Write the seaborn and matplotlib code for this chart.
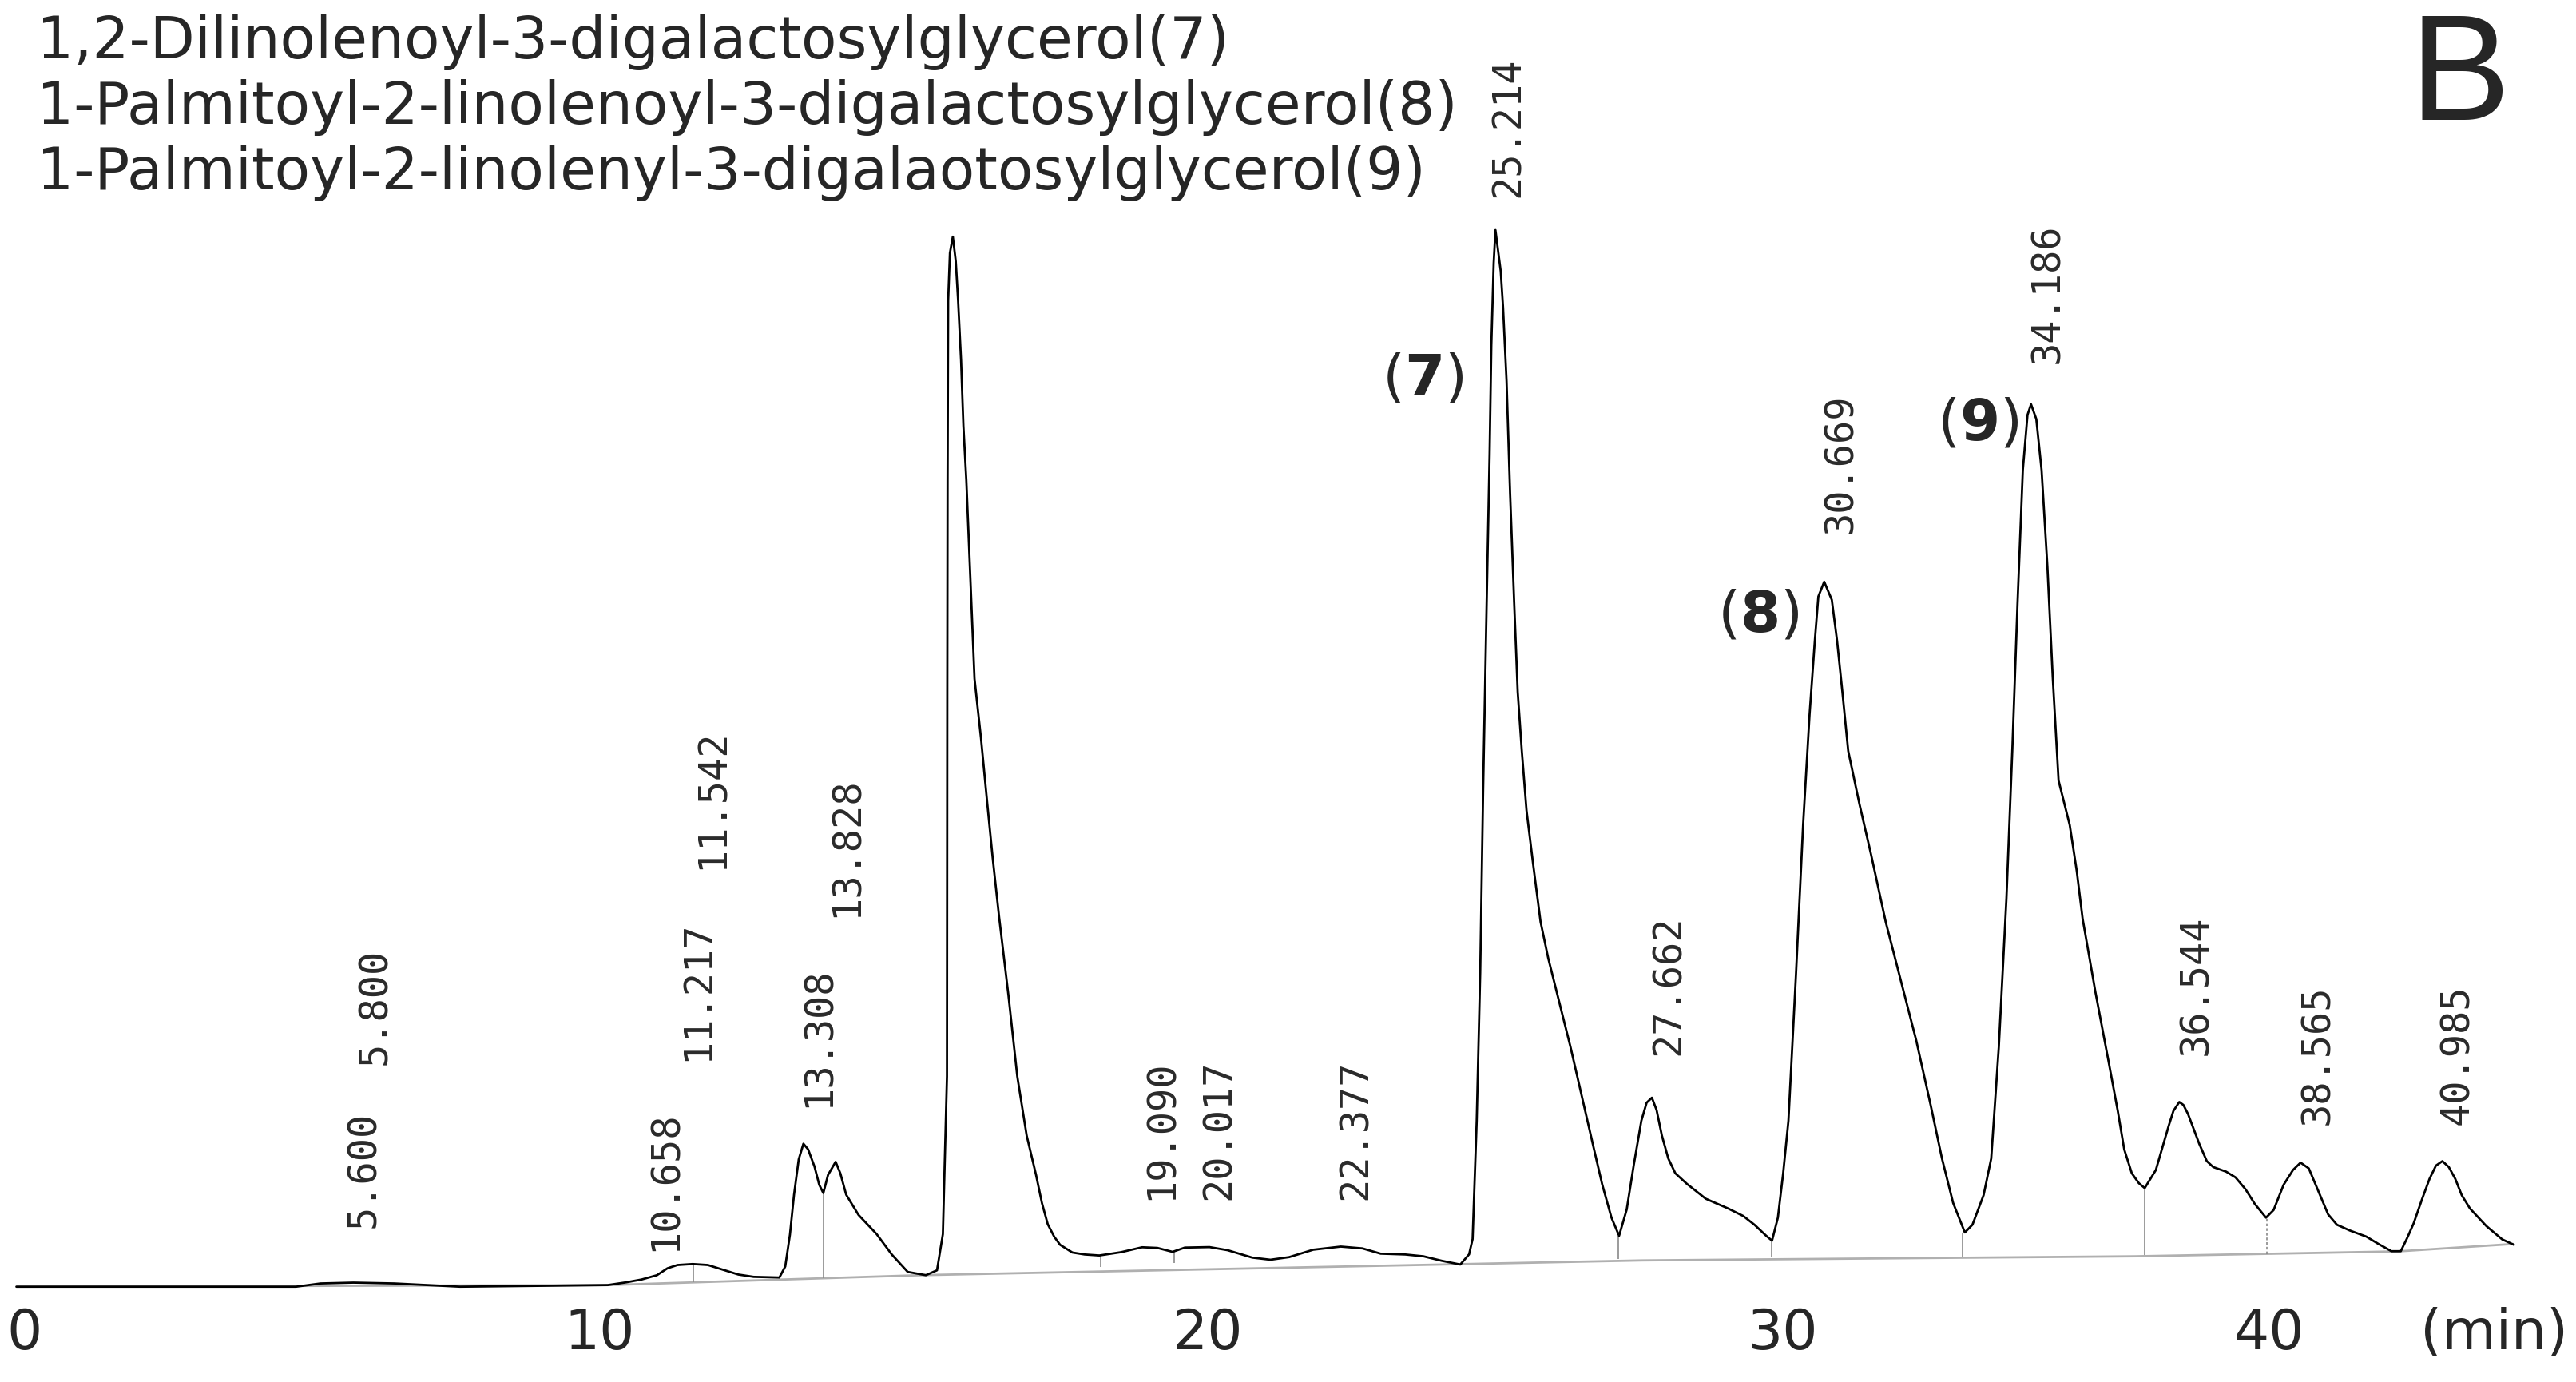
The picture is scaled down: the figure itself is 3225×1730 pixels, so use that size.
import matplotlib
matplotlib.use("Agg")
import matplotlib.pyplot as plt
import seaborn as sns

# --- trace (retention time in min, detector signal) ---
rt_min = [-0.14, 2.38, 4.63, 5.05, 5.61, 6.31, 7.43, 9.95, 10.27,
          10.53, 10.79, 10.97, 11.14, 11.40, 11.66, 11.92, 12.18, 12.44, 12.88,
          12.98, 13.06, 13.13, 13.21, 13.29, 13.37, 13.48, 13.56, 13.63, 13.71, 13.84,
          13.92, 14.02, 14.23, 14.54, 14.80, 15.07, 15.38, 15.57, 15.67, 15.74,
          15.745, 15.75, 15.755, 15.76, 15.79, 15.84, 15.89, 15.93, 15.98, 16.02,
          16.07, 16.14, 16.21, 16.32, 16.42, 16.52, 16.63, 16.79, 16.94, 17.10,
          17.26, 17.36, 17.46, 17.57, 17.67, 17.88, 18.09,
          18.34, 18.71, 19.07, 19.33, 19.59, 19.80, 20.22, 20.53, 20.95, 21.26,
          21.58, 21.99, 22.46, 22.83, 23.14, 23.56, 23.87, 24.18, 24.50,
          24.65, 24.71, 24.78, 24.84, 24.89, 24.95, 25.00, 25.03, 25.07, 25.10,
          25.19, 25.23, 25.29, 25.35, 25.42, 25.48, 25.55, 25.63, 25.74, 25.87,
          26.00, 26.19, 26.38, 26.57, 26.76, 26.92, 27.08, 27.21,
          27.34, 27.46, 27.59, 27.68, 27.77, 27.85, 27.94, 28.05, 28.17, 28.37,
          28.69, 29.07, 29.33, 29.52, 29.72, 29.82,
          29.92, 30.01, 30.10, 30.23, 30.35, 30.46, 30.55, 30.61, 30.71, 30.84, 30.93,
          31.02, 31.12, 31.31, 31.51, 31.76, 32.02, 32.28, 32.53, 32.72, 32.91, 33.11,
          33.24, 33.43, 33.56, 33.69, 33.82, 33.92, 34.01, 34.10, 34.18, 34.24, 34.33, 34.42,
          34.52, 34.61, 34.71, 34.90, 35.02, 35.12, 35.34, 35.56, 35.72, 35.83, 35.96, 36.08, 36.18,
          36.37, 36.59, 36.67, 36.77, 36.84, 36.92, 37.11, 37.24, 37.35, 37.57, 37.73, 37.90, 38.06, 38.25,
          38.38, 38.55, 38.71, 38.84, 38.98, 39.14, 39.31, 39.46, 39.68, 39.96, 40.17, 40.39, 40.55,
          40.66, 40.77, 40.91, 41.04, 41.15, 41.26, 41.37, 41.48, 41.59, 41.73, 42.01, 42.28, 42.48]
signal = [0, 0, 0, 2, 2.5, 2, 0, 1, 2.7,
          4.4, 7, 11.2, 13.2, 13.8, 13.2, 10.3, 7.4, 6, 5.6,
          12.3, 31.6, 56, 77.5, 87, 83.6, 73, 62, 57, 68, 76,
          69, 56, 43.7, 32, 19.5, 9, 7, 10, 32, 128,
          363, 491, 548, 600, 629, 639, 624, 600, 564, 524,
          491, 431, 370, 334, 297, 261, 225, 177, 128, 92,
          68, 51, 38, 30.4, 25.5, 20.8, 19.6,
          19, 21, 24, 23.6, 21.2, 23.8, 24.1, 22.2, 17.7, 16.4,
          18, 22.5, 24.4, 23.3, 20.1, 19.6, 18.5, 15.8, 13.5,
          19.7, 29, 101, 191, 303, 416, 506, 573, 623, 643,
          618, 596, 551, 483, 416, 362, 326, 290, 258, 222,
          200, 173, 146, 116.5, 87, 62.5, 42, 31,
          47, 74, 101, 112, 115, 107.5, 92, 78, 69, 62.5,
          53.5, 47.6, 43, 37.7, 31, 28,
          42, 69, 101, 191, 281, 348, 393, 420, 429, 418, 393,
          362, 326, 294, 263, 222, 186, 150, 110, 78, 51, 33,
          37.7, 55.7, 78, 146, 236, 326, 416, 497, 530.5, 537, 528, 497,
          438, 371, 308, 281, 253, 224, 179, 137.6, 107, 83.6, 69, 63, 60,
          71, 98, 107, 112.4, 110.6, 105, 87, 76.4, 72.8, 70, 66.5, 59.3, 50.3, 42,
          46.7, 62, 71, 75.5, 72, 58.4, 44, 37.7, 34.2, 30.5, 26, 21.6, 21.6,
          29.7, 38.6, 53, 65.6, 73.7, 76.4, 72.8, 65.6, 55.7, 47.6, 36.9, 28.8, 25.5]

# integration baseline and drop lines
base_rt = [-0.14, 9.95, 15.28, 27.61, 36.02, 40.51, 42.47]
base_sig = [0, 1, 7, 16, 18.5, 21.5, 26]
drop_rt = [11.41, 13.63, 18.36, 19.62, 27.19, 29.82, 33.07, 36.18]
drop_top = [13, 57, 19, 21, 31, 28, 33, 60]
drop_bottom = [3, 5, 12, 14.5, 17, 18, 18.5, 19.5]
dashed_drop_rt = 38.26
dashed_drop = (42, 20)

# retention time labels printed by the integrator
rt_labels = ["5.600", "5.800", "10.658", "11.217", "11.542", "13.308", "13.828",
             "19.090", "20.017", "22.377", "25.214", "27.662", "30.669",
             "34.186", "36.544", "38.565", "40.985"]
rt_label_x = [5.79, 5.97, 10.93, 11.48, 11.73, 13.55, 14.02, 19.40, 20.38,
              22.71, 25.32, 28.05, 30.99, 34.52, 37.05, 39.12, 41.51]
rt_label_y = [36, 135, 21.5, 137.5, 254, 109, 225, 53, 53, 53, 663, 141,
              458.5, 562, 141, 98.5, 98.5]

compounds = ["7", "8", "9"]
compound_x = [23.86, 29.58, 33.33]
compound_y = [552, 408, 525]

compound_names = ["1,2-Dilinolenoyl-3-digalactosylglycerol(7)",
                  "1-Palmitoyl-2-linolenoyl-3-digalactosylglycerol(8)",
                  "1-Palmitoyl-2-linolenyl-3-digalaotosylglycerol(9)"]

tick_text = ["0", "10", "20", "30", "40", "(min)"]
tick_pos = [0, 9.81, 20.19, 30.0, 38.30, 42.14]

# --- figure ---
sns.set_style("white")
plt.rcParams["font.family"] = ["DejaVu Sans"]

fig = plt.figure(figsize=(16.125, 8.65), dpi=200)
ax = fig.add_axes([0, 51 / 841, 1, 790 / 841])

sns.lineplot(x=base_rt, y=base_sig, ax=ax, color="#b0b0b0", lw=1.0,
             estimator=None, sort=False)
ax.vlines(drop_rt, drop_bottom, drop_top, color="#8a8a8a", lw=0.6)
ax.vlines(dashed_drop_rt, dashed_drop[1], dashed_drop[0], color="#8a8a8a",
          lw=0.6, linestyles=(0, (2, 1.5)))
sns.lineplot(x=rt_min, y=signal, ax=ax, color="black", lw=1.0,
             estimator=None, sort=False)

for lab, x, y in zip(rt_labels, rt_label_x, rt_label_y):
    ax.text(x, y, lab, rotation=90, ha="center", va="bottom",
            family="DejaVu Sans Mono", fontsize=17.5, color="#2a2a2a")

for c, x, y in zip(compounds, compound_x, compound_y):
    ax.text(x, y, "(" + r"$\mathbf{" + c + "}$" + ")", ha="center",
            va="center", fontsize=26)

ax.set_xlim(-0.4205, 43.54)
ax.set_ylim(-7, 783)
ax.set_xticks(tick_pos, tick_text)
ax.set_yticks([])
ax.tick_params(axis="x", length=0, pad=4, labelsize=25)
sns.despine(ax=ax, left=True, bottom=True)
ax.set_xlabel("")
ax.set_ylabel("")

for i, name in enumerate(compound_names):
    fig.text(46 / 3225, 1 - (73.3 + 82 * i) / 1730, name, ha="left",
             va="baseline", fontsize=26.2)

fig.text(3016 / 3225, 1 - 150 / 1730, "B", ha="left", va="baseline",
         family="Liberation Sans", fontsize=68)

fig.savefig("out.png", dpi=200)
